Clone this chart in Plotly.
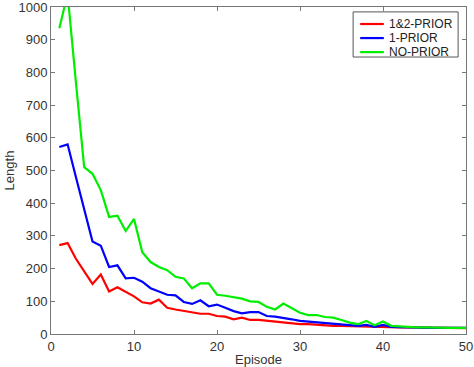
import plotly.graph_objects as go

episodes = list(range(1, 51))

prior_12 = [272, 278, 230, 190, 153, 182, 130, 143, 128, 115,
            97, 93, 105, 80, 75, 70, 65, 62, 62, 55,
            53, 45, 50, 43, 43, 40, 38, 35, 33, 30,
            30, 28, 27, 25, 25, 24, 23, 22, 21, 22,
            21, 20, 20, 20, 19, 19, 19, 19, 18, 18]

prior_1 = [572, 580, 480, 380, 283, 270, 205, 210, 170, 172,
           160, 140, 130, 120, 118, 98, 92, 103, 85, 90,
           80, 70, 63, 67, 67, 55, 53, 50, 45, 40,
           38, 35, 33, 30, 28, 28, 25, 28, 22, 28,
           22, 21, 20, 20, 19, 19, 19, 19, 19, 19]

no_prior = [935, 1040, 770, 510, 490, 440, 358, 362, 315, 352,
            250, 220, 205, 195, 175, 170, 140, 155, 155, 120,
            117, 113, 108, 100, 98, 83, 75, 93, 78, 65,
            58, 58, 52, 50, 43, 35, 30, 40, 27, 38,
            25, 23, 22, 20, 20, 19, 19, 19, 19, 19]

series = [("1&2-PRIOR", prior_12, "#ff0000"),
          ("1-PRIOR", prior_1, "#0000ff"),
          ("NO-PRIOR", no_prior, "#00ee00")]

FONT = "Liberation Sans, Arial, sans-serif"

fig = go.Figure()
for name, vals, col in series:
    fig.add_trace(go.Scatter(x=episodes, y=vals, mode="lines", name=name,
                             line=dict(color=col, width=2.2), showlegend=False))

# custom compact legend (paper coordinates)
lx0, lx1, ly0, ly1 = 0.728, 0.981, 0.847, 0.985
fig.add_shape(type="rect", xref="paper", yref="paper", x0=lx0, x1=lx1, y0=ly0, y1=ly1,
              line=dict(color="#555555", width=1), fillcolor="white", layer="above")
row_y = [0.948, 0.905, 0.862]
for (name, _, col), ry in zip(series, row_y):
    fig.add_shape(type="line", xref="paper", yref="paper", x0=0.745, x1=0.802, y0=ry, y1=ry,
                  line=dict(color=col, width=2.2), layer="above")
    fig.add_annotation(xref="paper", yref="paper", x=0.810, y=ry, text=name, showarrow=False,
                       xanchor="left", yanchor="middle",
                       font=dict(family=FONT, size=12, color="#222222"))

axis_common = dict(showline=True, linecolor="#777777", linewidth=1, mirror="ticks",
                   ticks="inside", ticklen=4, tickcolor="#777777",
                   showgrid=False, zeroline=False, automargin=False,
                   ticklabeloverflow="allow",
                   tickfont=dict(family=FONT, size=13, color="#333333"))

fig.update_layout(
    width=474, height=367,
    margin=dict(l=51, r=8, t=7, b=33),
    paper_bgcolor="white", plot_bgcolor="white",
    font=dict(family=FONT, size=13, color="#333333"),
    xaxis=dict(range=[0, 50], dtick=10, title=dict(text="Episode", standoff=2,
               font=dict(size=13, color="#333333")), **axis_common),
    yaxis=dict(range=[0, 1000], dtick=100, title=dict(text="Length", standoff=0,
               font=dict(size=13, color="#333333")), **axis_common),
    showlegend=False,
)

fig.write_html("out.html", config={"displayModeBar": False},
               post_script="document.body.style.margin='0';document.body.style.overflow='hidden';")
